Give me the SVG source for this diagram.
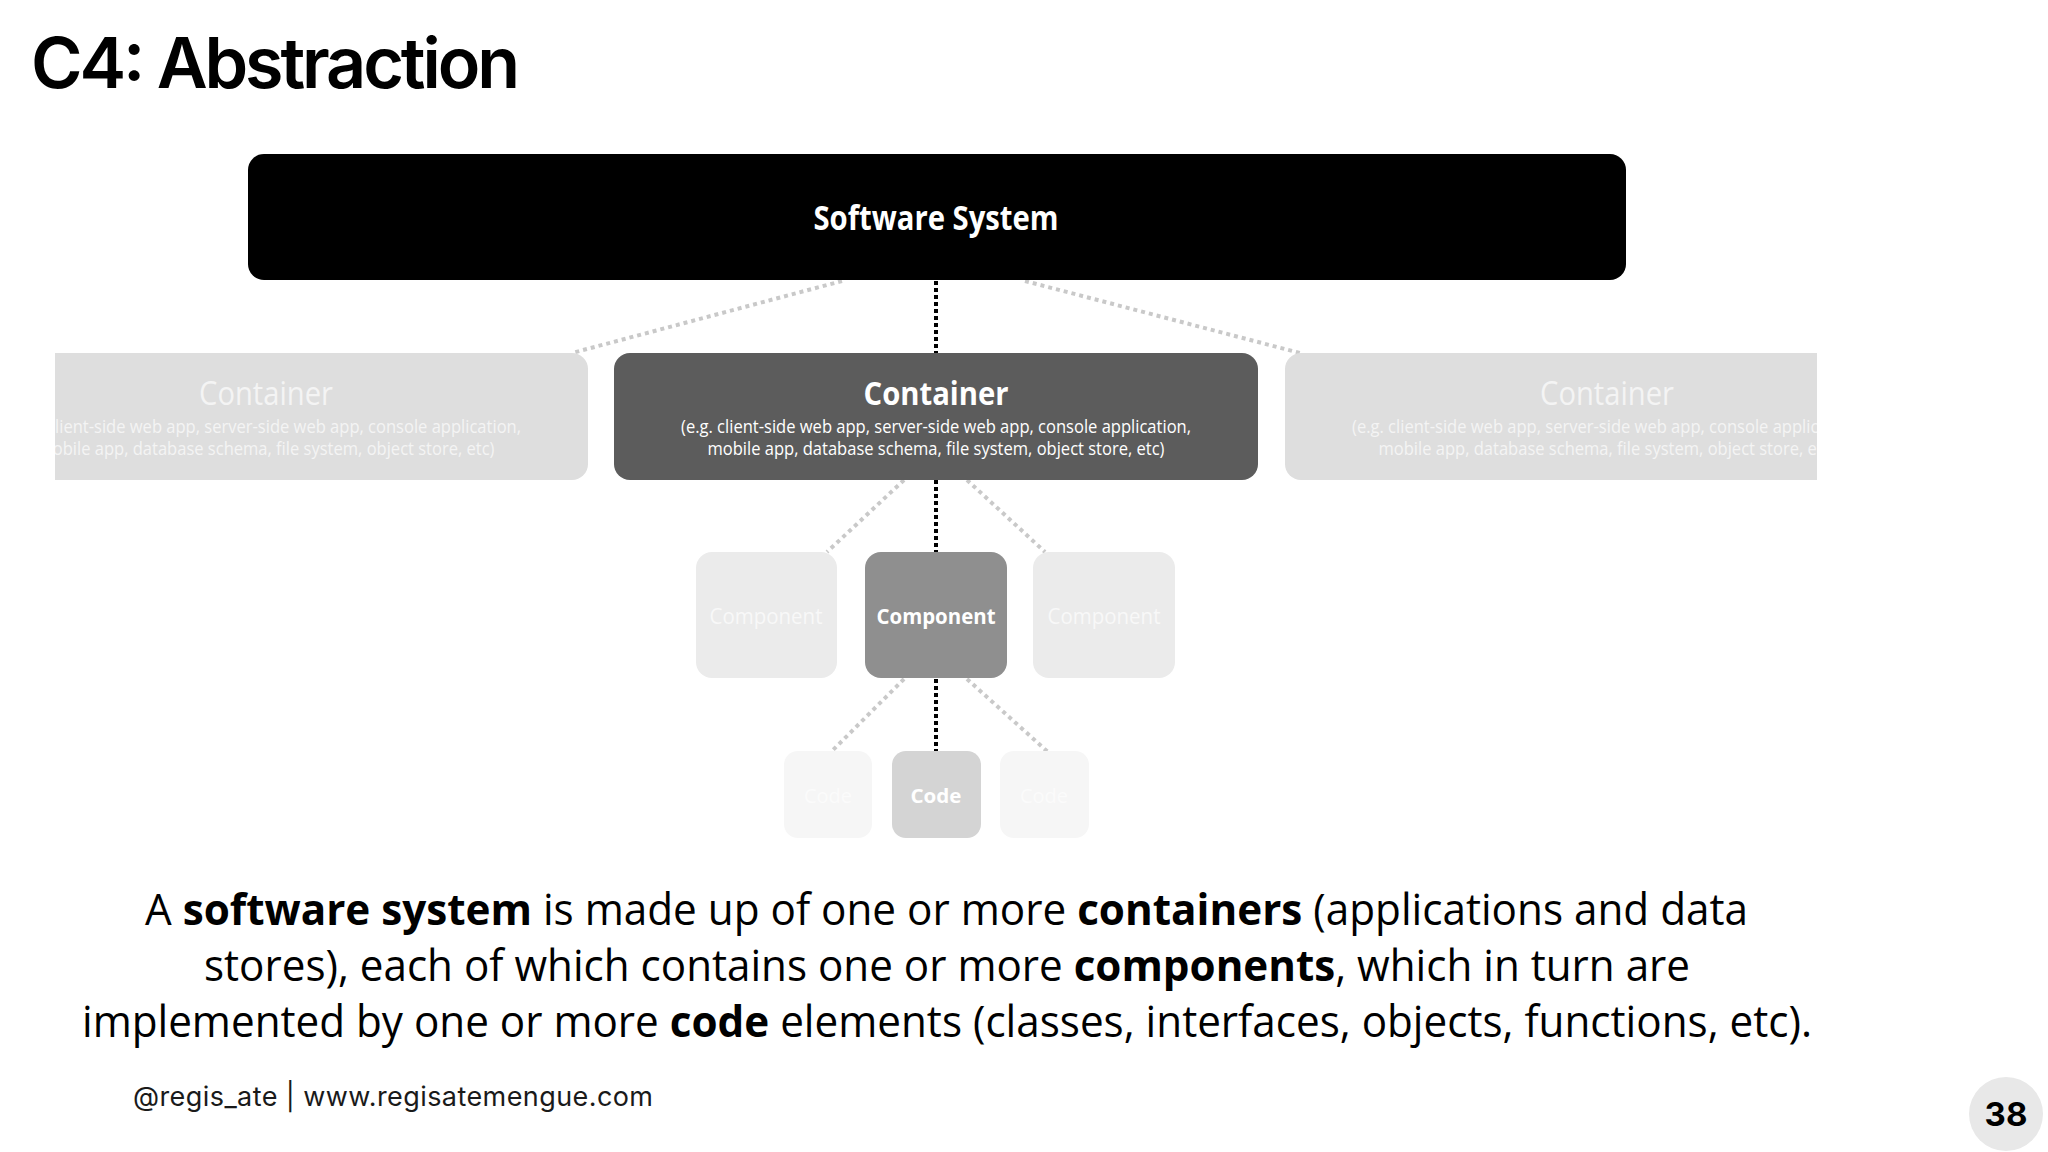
<svg xmlns="http://www.w3.org/2000/svg" width="2048" height="1152" viewBox="0 0 2048 1152">
  <style>
    .os { font-family: "Open Sans", "Noto Sans", "DejaVu Sans", sans-serif; }
    .in { font-family: Inter, "Liberation Sans", Arial, sans-serif; }
    .b { font-weight: 700; }
    .lbl { text-anchor: middle; }
    .dark { stroke: #000; stroke-width: 4; stroke-dasharray: 4 3; fill: none; }
    .faint { stroke: #c9c9c9; stroke-width: 4; stroke-dasharray: 4 4; fill: none; }
  </style>
  <defs>
    <clipPath id="crop">
      <rect x="55" y="300" width="1762" height="220"/>
    </clipPath>
  </defs>
  <rect width="2048" height="1152" fill="#ffffff"/>

  <text id="title" class="in" font-weight="600" x="31" y="88" font-size="70" textLength="489" fill="#000">C4: Abstraction</text>

  <g id="connectors">
    <line class="dark" x1="936" y1="281" x2="936" y2="353"/>
    <line class="faint" x1="842" y1="281" x2="572" y2="353"/>
    <line class="faint" x1="1025" y1="281" x2="1300" y2="353"/>
    <line class="dark" x1="936" y1="480" x2="936" y2="552"/>
    <line class="faint" x1="904" y1="480" x2="827" y2="552"/>
    <line class="faint" x1="967" y1="480" x2="1045" y2="552"/>
    <line class="dark" x1="936" y1="679" x2="936" y2="751"/>
    <line class="faint" x1="904" y1="679" x2="832" y2="751"/>
    <line class="faint" x1="967" y1="679" x2="1049" y2="753"/>
  </g>

  <g id="software-system">
    <rect x="248" y="154" width="1378" height="126" rx="16" fill="#000"/>
    <text class="os b lbl" x="936" y="230" font-size="34" textLength="245" lengthAdjust="spacingAndGlyphs" fill="#fff">Software System</text>
  </g>

  <g id="container-left" clip-path="url(#crop)">
    <rect x="-56" y="353" width="644" height="127" rx="16" fill="#dedede"/>
    <text class="os lbl" x="266" y="405" font-size="33" textLength="134" lengthAdjust="spacingAndGlyphs" fill="#f4f4f4">Container</text>
    <text class="os lbl" x="266" y="433" font-size="18" textLength="510" lengthAdjust="spacingAndGlyphs" fill="#f4f4f4">(e.g. client-side web app, server-side web app, console application,</text>
    <text class="os lbl" x="266" y="455" font-size="18" textLength="457" lengthAdjust="spacingAndGlyphs" fill="#f4f4f4">mobile app, database schema, file system, object store, etc)</text>
  </g>

  <g id="container-main">
    <rect x="614" y="353" width="644" height="127" rx="16" fill="#5c5c5c"/>
    <text class="os b lbl" x="936" y="405" font-size="33" textLength="145" lengthAdjust="spacingAndGlyphs" fill="#fff">Container</text>
    <text class="os lbl" x="936" y="433" font-size="18" textLength="510" lengthAdjust="spacingAndGlyphs" fill="#fff">(e.g. client-side web app, server-side web app, console application,</text>
    <text class="os lbl" x="936" y="455" font-size="18" textLength="457" lengthAdjust="spacingAndGlyphs" fill="#fff">mobile app, database schema, file system, object store, etc)</text>
  </g>

  <g id="container-right" clip-path="url(#crop)">
    <rect x="1285" y="353" width="644" height="127" rx="16" fill="#dedede"/>
    <text class="os lbl" x="1607" y="405" font-size="33" textLength="134" lengthAdjust="spacingAndGlyphs" fill="#f4f4f4">Container</text>
    <text class="os lbl" x="1607" y="433" font-size="18" textLength="510" lengthAdjust="spacingAndGlyphs" fill="#f4f4f4">(e.g. client-side web app, server-side web app, console application,</text>
    <text class="os lbl" x="1607" y="455" font-size="18" textLength="457" lengthAdjust="spacingAndGlyphs" fill="#f4f4f4">mobile app, database schema, file system, object store, etc)</text>
  </g>

  <g id="component-left">
    <rect x="696" y="552" width="141" height="126" rx="16" fill="#ebebeb"/>
    <text class="os lbl" x="766" y="624" font-size="21" textLength="113" lengthAdjust="spacingAndGlyphs" fill="#f8f8f8">Component</text>
  </g>
  <g id="component-main">
    <rect x="865" y="552" width="142" height="126" rx="16" fill="#8f8f8f"/>
    <text class="os b lbl" x="936" y="624" font-size="21" textLength="119" lengthAdjust="spacingAndGlyphs" fill="#fff">Component</text>
  </g>
  <g id="component-right">
    <rect x="1033" y="552" width="142" height="126" rx="16" fill="#ebebeb"/>
    <text class="os lbl" x="1104" y="624" font-size="21" textLength="113" lengthAdjust="spacingAndGlyphs" fill="#f8f8f8">Component</text>
  </g>

  <g id="code-left">
    <rect x="784" y="751" width="88" height="87" rx="14" fill="#f6f6f6"/>
    <text class="os lbl" x="828" y="803" font-size="20" fill="#fbfbfb">Code</text>
  </g>
  <g id="code-main">
    <rect x="892" y="751" width="89" height="87" rx="14" fill="#d4d4d4"/>
    <text class="os b lbl" x="936" y="803" font-size="20" textLength="51" lengthAdjust="spacingAndGlyphs" fill="#fff">Code</text>
  </g>
  <g id="code-right">
    <rect x="1000" y="751" width="89" height="87" rx="14" fill="#f6f6f6"/>
    <text class="os lbl" x="1044" y="803" font-size="20" fill="#fbfbfb">Code</text>
  </g>

  <g id="description" class="os" font-size="43" fill="#000">
    <text x="145" y="925" textLength="1603" lengthAdjust="spacingAndGlyphs">A <tspan class="b">software system</tspan> is made up of one or more <tspan class="b">containers</tspan> (applications and data</text>
    <text x="204" y="981" textLength="1486" lengthAdjust="spacingAndGlyphs">stores), each of which contains one or more <tspan class="b">components</tspan>, which in turn are</text>
    <text x="82" y="1037" textLength="1730" lengthAdjust="spacingAndGlyphs">implemented by one or more <tspan class="b">code</tspan> elements (classes, interfaces, objects, functions, etc).</text>
  </g>

  <text id="footer" class="in" x="133" y="1106" font-size="27" textLength="520" fill="#1a1a1a">@regis_ate | www.regisatemengue.com</text>

  <g id="page-number">
    <circle cx="2006" cy="1114" r="37" fill="#e8e8e8"/>
    <text class="in b lbl" x="2006" y="1126" font-size="33" fill="#000">38</text>
  </g>
</svg>
